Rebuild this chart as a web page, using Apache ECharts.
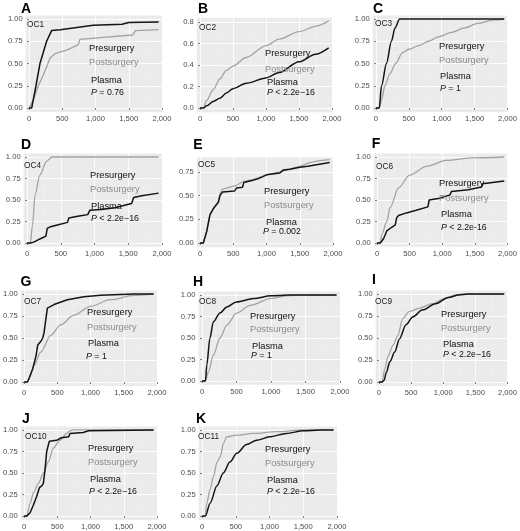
<!DOCTYPE html>
<html><head><meta charset="utf-8">
<script src="https://cdn.jsdelivr.net/npm/echarts@6/dist/echarts.min.js"></script>
<style>html,body{margin:0;padding:0;background:#fff}#c{width:520px;height:531px}</style>
</head><body><div id="c"></div>
<script>
// ---------- data ----------
const xTicks = [0, 500, 1000, 1500, 2000];
const xMinorTicks = [250, 750, 1250, 1750];
const yTicks = [0, 0.25, 0.5, 0.75, 1];
const yMinorTicks = [0.125, 0.375, 0.625, 0.875];
const yTicksB = [0, 0.2, 0.4, 0.6, 0.8];
const yMinorTicksB = [0.1, 0.3, 0.5, 0.7];
const yTicksE = [0, 0.25, 0.5, 0.75];
const panelLetters = ['A','B','C','D','E','F','G','H','I','J','K'];
const cohortNames = ['OC1','OC2','OC3','OC4','OC5','OC6','OC7','OC8','OC9','OC10','OC11'];
const groupNames = ['Presurgery','Postsurgery','Plasma'];
const pTexts = ['= 0.76','< 2.2e\u221216','= 1','< 2.2e\u221216','= 0.002','< 2.2e-16','= 1','= 1','< 2.2e\u221216','< 2.2e\u221216','< 2.2e\u221216'];

const oc1Pre  = [[0,0],[40,0],[105,0.25],[165,0.5],[265,0.75],[340,0.87],[470,0.88],[665,0.9],[965,0.93],[1400,0.94],[1500,0.96],[1950,0.965]];
const oc1Post = [[0,0],[20,0],[65,0.09],[140,0.25],[215,0.37],[265,0.46],[315,0.56],[390,0.61],[565,0.65],[740,0.71],[765,0.77],[1070,0.79],[1560,0.82],[1600,0.87],[1950,0.88]];
const oc2Pre  = [[0,0],[50,0],[100,0.02],[200,0.06],[300,0.09],[400,0.14],[500,0.18],[700,0.23],[1000,0.28],[1200,0.33],[1500,0.43],[1750,0.5],[1950,0.56]];
const oc2Post = [[0,0],[50,0],[100,0.07],[200,0.17],[300,0.27],[400,0.35],[500,0.39],[700,0.47],[1000,0.58],[1200,0.64],[1500,0.71],[1750,0.76],[1950,0.81]];
const oc3Pre  = [[0,0],[50,0],[85,0.25],[160,0.5],[235,0.75],[290,0.9],[360,1.0],[1950,1.0]];
const oc3Post = [[0,0],[50,0],[90,0.1],[135,0.25],[210,0.38],[300,0.5],[400,0.62],[500,0.66],[650,0.7],[800,0.75],[950,0.8],[1150,0.85],[1350,0.9],[1550,0.95],[1800,0.99],[1950,1.0]];
const oc4Pre  = [[0,0],[50,0],[100,0.01],[200,0.05],[280,0.08],[300,0.17],[350,0.19],[450,0.21],[600,0.24],[620,0.29],[750,0.31],[900,0.33],[930,0.38],[1100,0.39],[1300,0.41],[1550,0.46],[1580,0.53],[1700,0.55],[1950,0.58]];
const oc4Post = [[0,0],[50,0],[80,0.2],[120,0.56],[190,0.79],[290,0.95],[370,1.0],[1950,1.0]];
const oc5Pre  = [[0,0],[50,0],[100,0.12],[150,0.3],[200,0.36],[276,0.43],[300,0.5],[341,0.54],[520,0.55],[550,0.58],[640,0.59],[660,0.64],[780,0.66],[880,0.68],[1000,0.72],[1200,0.74],[1250,0.77],[1350,0.78],[1500,0.8],[1620,0.81],[1650,0.83],[1950,0.85]];
const oc5Post = [[0,0],[50,0],[100,0.12],[150,0.3],[200,0.37],[276,0.44],[300,0.52],[341,0.57],[450,0.59],[550,0.61],[650,0.65],[800,0.67],[880,0.69],[1000,0.72],[1200,0.75],[1350,0.78],[1500,0.81],[1650,0.85],[1800,0.87],[1950,0.88]];
const oc6Pre  = [[0,0],[50,0],[100,0.05],[150,0.14],[220,0.18],[280,0.21],[300,0.29],[330,0.32],[450,0.35],[600,0.38],[780,0.42],[800,0.5],[960,0.52],[1120,0.56],[1140,0.6],[1400,0.62],[1600,0.65],[1620,0.69],[1950,0.72]];
const oc6Post = [[0,0],[50,0],[75,0.1],[150,0.25],[200,0.41],[330,0.64],[500,0.79],[760,0.89],[1060,0.96],[1470,0.99],[1950,1.0]];
const oc7Pre  = [[0,0],[50,0],[80,0.05],[130,0.15],[180,0.3],[205,0.42],[250,0.46],[280,0.5],[300,0.56],[350,0.84],[450,0.88],[650,0.935],[900,0.97],[1150,0.985],[1650,1.0],[1950,1.0]];
const oc7Post = [[0,0],[50,0],[80,0.05],[150,0.19],[250,0.34],[400,0.53],[550,0.65],[750,0.76],[1000,0.86],[1300,0.935],[1650,0.985],[1950,1.0]];
const oc8Pre  = [[0,0],[50,0],[70,0.19],[115,0.5],[165,0.69],[260,0.79],[360,0.86],[500,0.92],[750,0.96],[1000,0.99],[1250,1.0],[1950,1.0]];
const oc8Post = [[0,0],[50,0],[90,0.1],[165,0.3],[260,0.5],[360,0.65],[500,0.79],[700,0.88],[1000,0.96],[1230,0.99],[1470,1.0],[1950,1.0]];
const oc9Pre  = [[0,0],[50,0],[80,0.02],[115,0.11],[170,0.23],[245,0.34],[320,0.49],[420,0.65],[525,0.74],[680,0.82],[880,0.89],[1080,0.96],[1240,0.99],[1390,1.0],[1950,1.0]];
const oc9Post = [[0,0],[50,0],[90,0.15],[145,0.3],[220,0.42],[295,0.53],[370,0.72],[470,0.8],[630,0.84],[830,0.89],[1030,0.95],[1190,0.99],[1340,1.0],[1950,1.0]];
const oc10Pre  = [[0,0],[40,0],[90,0.04],[140,0.13],[190,0.23],[230,0.33],[265,0.35],[290,0.38],[315,0.54],[340,0.75],[380,0.87],[490,0.88],[560,0.91],[670,0.92],[690,0.96],[890,0.97],[970,0.99],[1950,1.0]];
const oc10Post = [[0,0],[40,0],[90,0.15],[140,0.27],[215,0.38],[290,0.5],[365,0.63],[440,0.79],[540,0.88],[640,0.96],[690,0.99],[740,1.0],[1950,1.0]];
const oc11Pre  = [[0,0],[50,0],[120,0.15],[220,0.35],[315,0.5],[415,0.63],[515,0.73],[660,0.83],[810,0.88],[1000,0.92],[1250,0.96],[1500,0.99],[1750,1.0],[1950,1.0]];
const oc11Post = [[0,0],[50,0],[70,0.15],[120,0.31],[170,0.46],[220,0.62],[270,0.69],[320,0.85],[365,0.92],[510,0.94],[760,0.96],[1100,0.98],[1500,1.0],[1950,1.0]];

const preSeries  = [oc1Pre, oc2Pre, oc3Pre, oc4Pre, oc5Pre, oc6Pre, oc7Pre, oc8Pre, oc9Pre, oc10Pre, oc11Pre];
const postSeries = [oc1Post, oc2Post, oc3Post, oc4Post, oc5Post, oc6Post, oc7Post, oc8Post, oc9Post, oc10Post, oc11Post];

// ---------- layout (pixels) ----------
const XMIN = -50, XMAX = 2000;
const layout = [
 {x0:29,x2:162,y0:108,yr:19,ref:1,ymin:-0.045,ymax:1.04,yt:yTicks,ym:yMinorTicks,dec:2,letter:[26,9],oc:[27,25],pre:[89,48],post:[89,62],plasma:[91,80],p:[91,93],smooth:[false,false]},
 {x0:200,x2:332,y0:108,yr:22,ref:0.8,ymin:-0.04,ymax:0.84,yt:yTicksB,ym:yMinorTicksB,dec:1,letter:[203,9],oc:[199,28],pre:[265,53],post:[265,69],plasma:[267,82],p:[267,93],smooth:[true,true]},
 {x0:376,x2:510,y0:108,yr:19,ref:1,ymin:-0.045,ymax:1.04,yt:yTicks,ym:yMinorTicks,dec:2,letter:[378,9],oc:[375,24],pre:[439,46],post:[439,60],plasma:[440,76],p:[440,89],smooth:[true,true]},
 {x0:27,x2:162,y0:243,yr:157,ref:1,ymin:-0.045,ymax:1.04,yt:yTicks,ym:yMinorTicks,dec:2,letter:[26,145],oc:[24,166],pre:[90,175],post:[90,189],plasma:[91,206],p:[91,219],smooth:[false,true]},
 {x0:200,x2:333,y0:243,yr:172,ref:0.75,ymin:-0.045,ymax:0.905,yt:yTicksE,ym:yMinorTicks,dec:2,letter:[198,145],oc:[198,165],pre:[264,191],post:[264,205],plasma:[266,222],p:[263,232],smooth:[false,false]},
 {x0:377,x2:508,y0:243,yr:157,ref:1,ymin:-0.045,ymax:1.04,yt:yTicks,ym:yMinorTicks,dec:2,letter:[376,144],oc:[376,167],pre:[439,183],post:[439,198],plasma:[441,214],p:[441,228],smooth:[false,true]},
 {x0:23,x2:157,y0:382,yr:294,ref:1,ymin:-0.045,ymax:1.04,yt:yTicks,ym:yMinorTicks,dec:2,letter:[26,282],oc:[24,302],pre:[87,312],post:[87,327],plasma:[88,343],p:[86,357],smooth:[false,true]},
 {x0:202,x2:340,y0:381,yr:295,ref:1,ymin:-0.045,ymax:1.04,yt:yTicks,ym:yMinorTicks,dec:2,letter:[198,282],oc:[199,302],pre:[250,316],post:[250,329],plasma:[252,346],p:[251,356],smooth:[true,true]},
 {x0:379,x2:510,y0:382,yr:294,ref:1,ymin:-0.045,ymax:1.04,yt:yTicks,ym:yMinorTicks,dec:2,letter:[374,280],oc:[375,302],pre:[441,314],post:[441,328],plasma:[443,344],p:[443,355],smooth:[true,true]},
 {x0:24,x2:157,y0:517,yr:430,ref:1,ymin:-0.045,ymax:1.04,yt:yTicks,ym:yMinorTicks,dec:2,letter:[26,419],oc:[25,437],pre:[88,448],post:[88,462],plasma:[90,479],p:[89,492],smooth:[false,true]},
 {x0:202,x2:337,y0:517,yr:430,ref:1,ymin:-0.045,ymax:1.04,yt:yTicks,ym:yMinorTicks,dec:2,letter:[201,419],oc:[198,437],pre:[265,449],post:[265,463],plasma:[267,480],p:[267,492],smooth:[true,true]}
];

const LABEL_FONT = 'Liberation Sans';
const TEXT_FONT = 'Liberation Sans';
const PRE_COLOR = '#141414', POST_COLOR = '#a3a3a3';
const TXT = 9.3;

const grids = [], xAxes = [], yAxes = [], series = [], graphics = [];
layout.forEach((L, i) => {
  const s = (L.x2 - L.x0) / 2000;
  const sy = (L.y0 - L.yr) / L.ref;
  grids.push({
    left: L.x0 + XMIN * s, width: (XMAX - XMIN) * s,
    top: L.y0 - L.ymax * sy, height: (L.ymax - L.ymin) * sy,
    show: true, backgroundColor: '#ebebeb', borderWidth: 0, containLabel: false
  });
  xAxes.push({
    type: 'value', gridIndex: i, min: XMIN, max: XMAX,
    axisLine: { show: false },
    axisTick: { show: true, customValues: xTicks, length: 2, lineStyle: { color: '#444', width: 0.7 } },
    axisLabel: { customValues: xTicks, fontSize: 7.6, fontFamily: LABEL_FONT, color: '#4a4a4a', margin: 3,
      formatter: v => Number(v).toLocaleString('en-US') },
    splitLine: { show: true, lineStyle: { color: '#ffffff', width: 0.9 } }
  });
  xAxes.push({
    type: 'value', gridIndex: i, min: XMIN, max: XMAX,
    axisLine: { show: false },
    axisTick: { show: false, customValues: xMinorTicks },
    axisLabel: { show: false, customValues: xMinorTicks },
    splitLine: { show: true, lineStyle: { color: '#f7f7f7', width: 0.45 } }
  });
  yAxes.push({
    type: 'value', gridIndex: i, min: L.ymin, max: L.ymax,
    axisLine: { show: false },
    axisTick: { show: true, customValues: L.yt, length: 2, lineStyle: { color: '#444', width: 0.7 } },
    axisLabel: { customValues: L.yt, fontSize: 7.6, fontFamily: LABEL_FONT, color: '#4a4a4a', margin: 3,
      formatter: v => Number(v).toFixed(L.dec) },
    splitLine: { show: true, lineStyle: { color: '#ffffff', width: 0.9 } }
  });
  yAxes.push({
    type: 'value', gridIndex: i, min: L.ymin, max: L.ymax,
    axisLine: { show: false },
    axisTick: { show: false, customValues: L.ym.filter(v => v < L.ymax) },
    axisLabel: { show: false, customValues: L.ym.filter(v => v < L.ymax) },
    splitLine: { show: true, lineStyle: { color: '#f7f7f7', width: 0.45 } }
  });
  series.push({
    type: 'line', name: groupNames[1], xAxisIndex: 2 * i, yAxisIndex: 2 * i,
    data: postSeries[i], showSymbol: false, symbol: 'none',
    smooth: L.smooth[1] ? 0.3 : false, smoothMonotone: 'x',
    lineStyle: { color: POST_COLOR, width: 1.3 }, z: 3
  });
  series.push({
    type: 'line', name: groupNames[0], xAxisIndex: 2 * i, yAxisIndex: 2 * i,
    data: preSeries[i], showSymbol: false, symbol: 'none',
    smooth: L.smooth[0] ? 0.3 : false, smoothMonotone: 'x',
    lineStyle: { color: PRE_COLOR, width: 1.5 }, z: 4
  });
  graphics.push({ type: 'text', x: L.letter[0], y: L.letter[1], z: 10,
    style: { text: panelLetters[i], fontSize: 14, fontWeight: 'bold', fontFamily: 'Liberation Sans', fill: '#000', align: 'center', verticalAlign: 'middle' } });
  graphics.push({ type: 'text', x: L.oc[0], y: L.oc[1], z: 10,
    style: { text: cohortNames[i], fontSize: 8.3, fontFamily: TEXT_FONT, fill: '#1a1a1a', align: 'left', verticalAlign: 'middle' } });
  graphics.push({ type: 'text', x: L.pre[0], y: L.pre[1], z: 10,
    style: { text: groupNames[0], fontSize: TXT, fontFamily: TEXT_FONT, fill: '#111', align: 'left', verticalAlign: 'middle' } });
  graphics.push({ type: 'text', x: L.post[0], y: L.post[1], z: 10,
    style: { text: groupNames[1], fontSize: TXT, fontFamily: TEXT_FONT, fill: '#8a8a8a', align: 'left', verticalAlign: 'middle' } });
  graphics.push({ type: 'text', x: L.plasma[0], y: L.plasma[1], z: 10,
    style: { text: groupNames[2], fontSize: TXT, fontFamily: TEXT_FONT, fill: '#111', align: 'left', verticalAlign: 'middle' } });
  graphics.push({ type: 'text', x: L.p[0], y: L.p[1], z: 10,
    style: { text: '{i|P}{n| ' + pTexts[i] + '}', fontSize: 8.8, fontFamily: TEXT_FONT, fill: '#111', align: 'left', verticalAlign: 'middle',
      rich: {
        i: { fontStyle: 'italic', fontSize: 8.8, fontFamily: TEXT_FONT, fill: '#111' },
        n: { fontSize: 8.8, fontFamily: TEXT_FONT, fill: '#111' }
      } } });
});

const chart = echarts.init(document.getElementById('c'), null, { renderer: 'canvas' });
chart.setOption({
  animation: false,
  backgroundColor: '#ffffff',
  grid: grids, xAxis: xAxes, yAxis: yAxes, series: series,
  graphic: graphics
});
</script>
</body></html>
